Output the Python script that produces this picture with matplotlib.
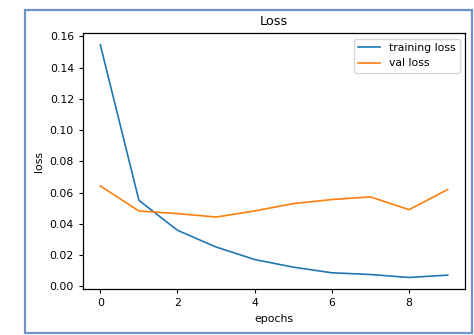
import matplotlib
matplotlib.use("Agg")
import matplotlib.pyplot as plt
from matplotlib.patches import Rectangle

epochs = list(range(10))
training_loss = [0.1546, 0.0550, 0.0358, 0.0251, 0.0171, 0.0122, 0.0086, 0.0075, 0.0056, 0.0071]
val_loss = [0.0642, 0.0482, 0.0465, 0.0443, 0.0482, 0.0529, 0.0555, 0.0572, 0.0490, 0.0619]

fig = plt.figure(figsize=(4.74, 3.35), dpi=100)
ax = fig.add_axes([0.175, 0.137, 0.806, 0.764])

ax.plot(epochs, training_loss, color="#1f77b4", lw=1.2, label="training loss")
ax.plot(epochs, val_loss, color="#ff7f0e", lw=1.2, label="val loss")

ax.set_title("Loss", fontsize=9.3)
ax.set_xlabel("epochs", fontsize=7.8)
ax.set_ylabel("loss", fontsize=7.8)
ax.set_xticks([0, 2, 4, 6, 8])
ax.set_yticks([0.0, 0.02, 0.04, 0.06, 0.08, 0.10, 0.12, 0.14, 0.16])
ax.tick_params(labelsize=7.8, width=0.8, length=3)
for s in ax.spines.values():
    s.set_linewidth(0.9)
ax.legend(loc="upper right", fontsize=7.8)

# blue frame around the figure, as in the document screenshot
fig.patches.append(Rectangle((0.053, 0.006), 0.943, 0.964, transform=fig.transFigure,
                             fill=False, edgecolor="#6f93c9", lw=1.6))

fig.savefig("out.png", dpi=100)
